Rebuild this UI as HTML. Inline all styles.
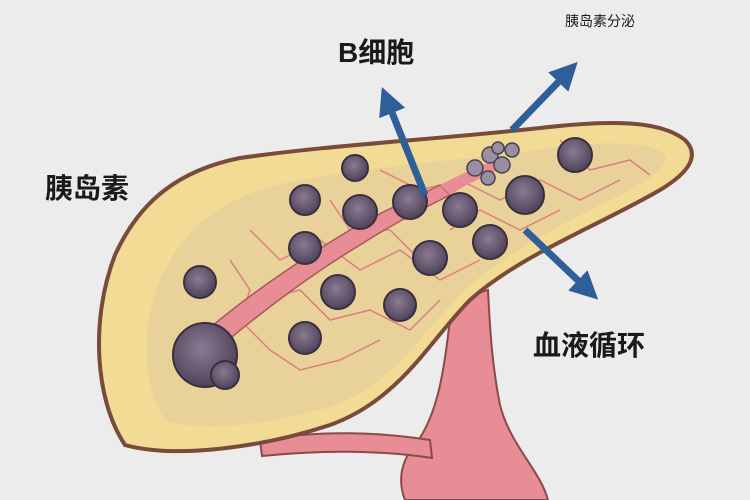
<!DOCTYPE html>
<html><head><meta charset="utf-8"><style>
html,body{margin:0;padding:0;width:750px;height:500px;overflow:hidden;background:#ececec}
text{font-family:"Liberation Sans","Noto Sans CJK SC",sans-serif;fill:#1a1a1a}
</style></head><body>
<svg width="750" height="500" viewBox="0 0 750 500" xmlns="http://www.w3.org/2000/svg">
<defs>
<radialGradient id="cell" cx="45%" cy="40%" r="60%">
<stop offset="0" stop-color="#8a7a92"/><stop offset="1" stop-color="#4f4358"/>
</radialGradient>
<marker id="ah" markerWidth="4" markerHeight="4" refX="2" refY="2" orient="auto" markerUnits="strokeWidth">
<path d="M0,0 L4,2 L0,4 Z" fill="#2f5f98"/></marker>
</defs>
<rect width="750" height="500" fill="#ececec"/>
<!-- vessel -->
<path d="M452,300 C445,370 438,415 415,445 C400,462 398,482 405,500 L548,500 C540,470 510,445 500,405 C492,365 490,330 488,290 Z" fill="#e88c95" stroke="#8a4a4a" stroke-width="2"/>
<path d="M260,440 C320,430 380,432 430,440 L432,458 C380,450 320,450 262,456 Z" fill="#e88c95" stroke="#8a4a4a" stroke-width="2"/>
<!-- organ -->
<path d="M125,445 C95,400 90,320 115,255 C140,200 180,170 240,158 C330,145 430,140 540,128 C610,120 660,120 685,140 C700,155 690,172 660,190 C600,225 520,255 470,300 C430,340 400,400 330,425 C270,445 180,460 125,445 Z" fill="#f1db95" stroke="#7a4a3a" stroke-width="4"/>
<path d="M165,420 C140,380 140,320 165,270 C190,220 230,195 290,182 C380,165 470,160 550,148 C610,140 650,142 665,155 C670,165 650,180 620,195 C560,225 500,255 460,295 C420,335 390,390 320,410 C260,425 200,432 165,420 Z" fill="#e8cf9a" opacity="0.9"/>
<!-- capillaries -->
<g stroke="#d98080" stroke-width="1.5" fill="none">
<path d="M250,230 L280,260 L320,240 L360,270 L400,250 L440,280 L480,260"/>
<path d="M260,300 L300,290 L330,320 L370,310 L410,330 L440,300"/>
<path d="M380,170 L420,190 L460,180 L500,200 L540,180 L580,200 L620,180"/>
<path d="M560,140 L590,170 L630,160 L650,175"/>
<path d="M240,320 L270,350 L300,370 L340,360 L380,340"/>
<path d="M330,200 L350,230 L390,230 L420,260"/>
<path d="M450,230 L480,210 L520,230 L560,210"/>
<path d="M230,260 L250,290 L240,320"/>
</g>
<!-- duct -->
<path d="M190,345 C240,300 300,260 350,230 C380,212 410,200 440,185 L450,195 C410,215 380,232 360,245 C310,275 250,320 205,360 Z" fill="#e88c95" stroke="#a45a5a" stroke-width="1.5"/>
<path d="M440,185 C460,175 480,165 500,158 L505,168 C485,175 465,185 450,195Z" fill="#e88c95"/>
<!-- cells -->
<g fill="url(#cell)" stroke="#3a2f40" stroke-width="2">
<circle cx="355" cy="168" r="13"/><circle cx="305" cy="200" r="15"/><circle cx="360" cy="212" r="17"/>
<circle cx="410" cy="202" r="17"/><circle cx="460" cy="210" r="17"/><circle cx="525" cy="195" r="19"/>
<circle cx="575" cy="155" r="17"/><circle cx="305" cy="248" r="16"/><circle cx="200" cy="282" r="16"/>
<circle cx="490" cy="242" r="17"/><circle cx="430" cy="258" r="17"/><circle cx="338" cy="292" r="17"/>
<circle cx="400" cy="305" r="16"/><circle cx="305" cy="338" r="16"/><circle cx="205" cy="355" r="32"/>
<circle cx="225" cy="375" r="14"/>
</g>
<g fill="#9a8ea2" stroke="#4a4050" stroke-width="1.5">
<circle cx="475" cy="168" r="8"/><circle cx="490" cy="155" r="8"/><circle cx="502" cy="165" r="8"/>
<circle cx="512" cy="150" r="7"/><circle cx="488" cy="178" r="7"/><circle cx="498" cy="148" r="6"/>
</g>
<!-- arrows -->
<g stroke="#2f5f98" stroke-width="7" stroke-linecap="butt">
<line x1="425" y1="195" x2="387" y2="100" marker-end="url(#ah)"/>
<line x1="512" y1="130" x2="568" y2="72" marker-end="url(#ah)"/>
<line x1="525" y1="230" x2="588" y2="290" marker-end="url(#ah)"/>
</g>
<text x="338" y="62" font-size="28" font-weight="bold">B细胞</text>
<text x="565" y="26" font-size="14">胰岛素分泌</text>
<text x="45" y="198" font-size="28" font-weight="bold">胰岛素</text>
<text x="533" y="355" font-size="28" font-weight="bold">血液循环</text>
</svg>
</body></html>
